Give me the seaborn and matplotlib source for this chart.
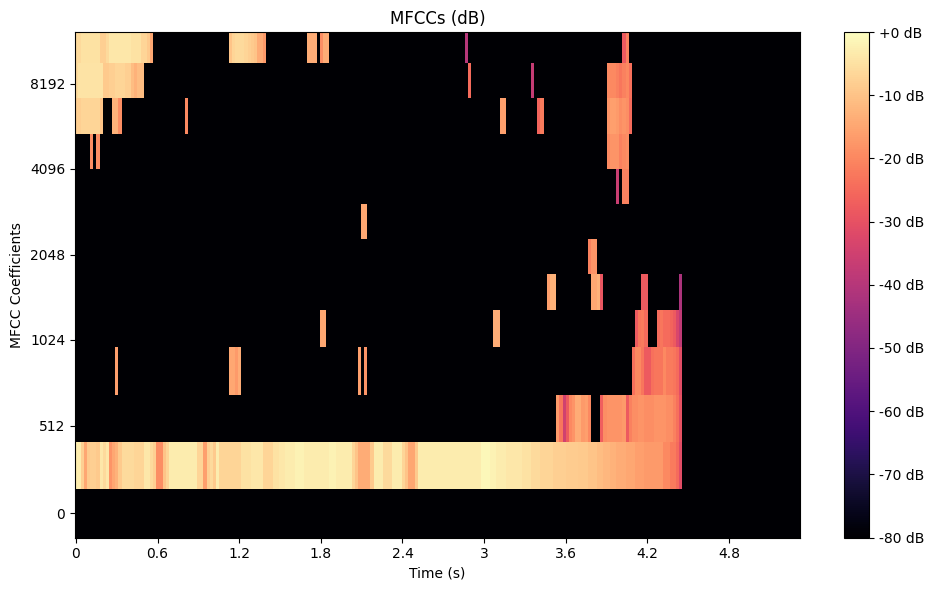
#!/usr/bin/env python3
import numpy as np
import matplotlib
matplotlib.use('Agg')
import matplotlib.pyplot as plt
import seaborn as sns

# dB runs per coefficient: (first frame, last frame, dB)
mfcc_1 = [(0,1,-3),(2,2,-8),(3,3,-15),(4,4,-9),(5,6,-8),(7,7,-9),(8,8,-4),(9,9,-6),(10,10,-4),
          (11,11,-18),(12,12,-15),(13,13,-13),(14,14,-9),(15,18,-6),(19,21,-7),(22,23,-4),(24,24,-6),
          (25,25,-8),(26,27,-19),(28,28,-10),(29,29,-7),(30,38,-3),(39,40,-7),(41,41,-16),(42,42,-8),
          (43,43,-6),(44,44,-9),(45,45,-3),(46,46,-7),(47,52,-7),(53,55,-5),(56,59,-4),(60,61,-7),
          (62,62,-7),(63,64,-5),(65,66,-4),(67,69,-3),(70,72,-2),(73,80,-3),(81,82,-2),(83,87,-3),
          (88,88,-7),(89,89,-10),(90,93,-14),(94,94,-9),(95,97,-3),(98,100,-6),(101,103,-3),(104,104,-7),
          (105,105,-10),(106,107,-15),(108,108,-9),(109,111,-3),(112,128,-3),(129,131,-1),(132,133,-2),
          (134,136,-3),(137,141,-4),(142,144,-5),(145,147,-6),(148,151,-7),(152,155,-8),(156,159,-8.5),
          (160,162,-9),(163,165,-10),(166,167,-11),(168,169,-12),(170,171,-13),(172,174,-14),
          (175,177,-15),(178,180,-16),(181,186,-17),(187,188,-20),(189,190,-22),(191,191,-25),(192,192,-31)]
mfcc_2 = [(153,153,-17),(154,154,-23),(155,155,-35),(156,156,-28),(157,157,-20),(158,158,-18),(159,160,-14),
          (161,161,-17),(162,162,-16),(163,163,-20),(167,167,-27),(168,168,-19),(169,173,-18),(174,174,-17),
          (175,175,-28),(176,176,-21),(177,178,-19),(179,180,-18),(181,183,-19),(184,187,-18),(188,189,-19),
          (190,190,-21),(191,191,-24),(192,192,-30)]
mfcc_3 = [(13,13,-16),(49,50,-15),(51,51,-17),(52,52,-14),(90,90,-16),(92,92,-18),(177,177,-24),(178,179,-20),
          (180,180,-23),(181,182,-28),(183,183,-24),(184,186,-23),(187,187,-20),(188,189,-22),(190,190,-23),
          (191,191,-25),(192,192,-31)]
mfcc_4 = [(78,79,-15),(133,134,-14),(178,178,-28),(179,179,-23),(180,180,-22),(181,181,-25),(185,185,-25),
          (186,186,-23),(187,188,-25),(189,189,-26),(190,190,-28),(191,191,-33),(192,192,-38)]
mfcc_5 = [(150,150,-16),(151,152,-13),(164,165,-15),(166,166,-13),(167,167,-29),(180,181,-28),(192,192,-42)]
mfcc_6 = [(163,163,-21),(164,165,-18)]
mfcc_7 = [(91,92,-15)]
mfcc_8 = [(172,172,-36),(174,175,-21)]
mfcc_9 = [(5,5,-19),(7,7,-19),(169,169,-20),(170,172,-18),(173,173,-21),(174,174,-20),(175,175,-19)]
mfcc_10 = [(0,1,-8),(2,7,-7),(8,8,-10),(12,13,-13),(14,14,-19),(35,35,-20),(135,136,-16),(147,147,-26),
           (148,148,-22),(169,169,-18),(170,171,-16),(172,172,-17),(173,173,-19),(174,174,-18),(175,175,-19),
           (176,176,-25)]
mfcc_11 = [(0,0,-6),(1,8,-4.5),(9,10,-9),(11,12,-8),(13,15,-7),(16,17,-8),(18,18,-11),(19,19,-13),(20,21,-11),
           (125,125,-25),(145,145,-37),(169,171,-20),(172,172,-21),(173,173,-23),(174,174,-21),(175,175,-20),
           (176,176,-24)]
mfcc_12 = [(0,1,-6),(2,7,-5),(8,9,-8),(10,10,-6),(11,17,-4),(18,20,-5),(21,22,-7),(23,23,-9),(24,24,-15),
           (49,49,-10),(50,50,-7),(51,53,-6),(54,54,-7),(55,55,-8),(56,56,-9),(57,57,-10),(58,59,-14),(60,60,-17),
           (74,76,-14),(78,78,-19),(79,80,-14),(124,124,-40),(174,174,-28),(175,175,-21)]

# height of each coefficient band on the warped frequency axis, bottom to top
band_heights = [49, 47, 47, 48, 37, 36, 35, 35, 35, 35, 36, 35, 31]
freq_ticks = [24.5, 112, 198, 283, 369, 454]
freq_labels = ['0', '512', '1024', '2048', '4096', '8192']
time_ticks = [0, 0.6, 1.2, 1.8, 2.4, 3.0, 3.6, 4.2, 4.8]
time_labels = ['0', '0.6', '1.2', '1.8', '2.4', '3', '3.6', '4.2', '4.8']
n_frames = 231
frame_dur = 0.02315
db_floor = -80

rows = [[], mfcc_1, mfcc_2, mfcc_3, mfcc_4, mfcc_5, mfcc_6, mfcc_7, mfcc_8, mfcc_9, mfcc_10, mfcc_11, mfcc_12]
mfccs = np.full((len(rows), n_frames), float(db_floor))
for i, runs in enumerate(rows):
    for first, last, db in runs:
        mfccs[i, first:last + 1] = db

# repeat rows so the bands keep their unequal heights in the heatmap
grid = np.repeat(mfccs, band_heights, axis=0)

fig = plt.figure(figsize=(9.34, 5.9), dpi=100)
ax = fig.add_axes([75 / 934, 1 - 537.5 / 590, 725 / 934, 505.5 / 590])
cax = fig.add_axes([844 / 934, 1 - 537.5 / 590, 25 / 934, 505.5 / 590])

sns.heatmap(grid, ax=ax, cbar_ax=cax, cmap='magma', vmin=db_floor, vmax=0,
            xticklabels=False, yticklabels=False,
            cbar_kws={'format': '%+2.0f dB', 'ticks': np.arange(-80, 1, 10)})
ax.invert_yaxis()

# time zero sits part of a frame into the first cell
ax.set_xlim(0.2, 230.4)
ax.set_xticks(0.5 + np.array(time_ticks) / frame_dur)
ax.set_xticklabels(time_labels, rotation=0)
ax.set_yticks(freq_ticks)
ax.set_yticklabels(freq_labels, rotation=0)
ax.tick_params(length=3.5, width=0.8, labelsize=10)
ax.set_xlabel('Time (s)')
ax.set_ylabel('MFCC Coefficients')
ax.set_title('MFCCs (dB)')
for spine in ax.spines.values():
    spine.set_visible(True)

cbar = ax.collections[0].colorbar
cbar.outline.set_visible(True)
cbar.outline.set_linewidth(0.8)
cbar.ax.tick_params(length=3.5, width=0.8, labelsize=10)

plt.savefig('out.png', dpi=100)
plt.close()
